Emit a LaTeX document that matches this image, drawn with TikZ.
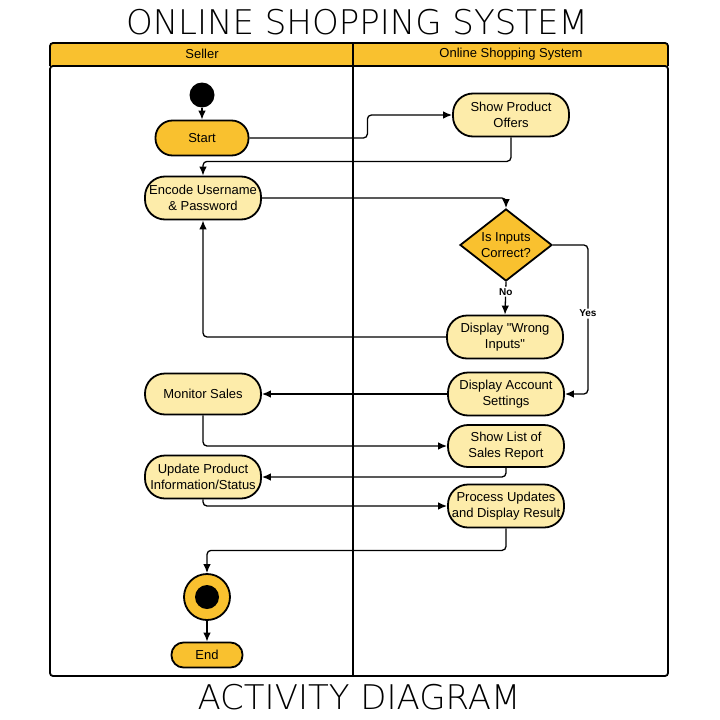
\documentclass[tikz,border=0pt]{standalone}
\usepackage{fontspec}
\setmainfont{Liberation Sans}
\newfontfamily\titlefont{DejaVu Sans ExtraLight}
\definecolor{laneyellow}{HTML}{F9C12F}
\definecolor{actlight}{HTML}{FDECAA}
\usetikzlibrary{positioning,arrows.meta,shapes.geometric}

\begin{document}
\begin{tikzpicture}[x=1pt,y=-1pt,
        act/.style={rectangle,rounded corners=20pt,
                    draw=black,line width=1.8pt,fill=actlight,
                    minimum width=116pt,minimum height=43pt,inner sep=1pt,
                    align=center,font=\fontsize{13}{16}\selectfont},
        term/.style={act,fill=laneyellow},
        flow/.style={-{Latex[length=9pt,width=7.5pt]},line width=1.3pt,rounded corners=4pt},
        guard/.style={fill=white,inner sep=1.5pt,font=\bfseries\fontsize{10}{12}\selectfont}]
    \useasboundingbox (0,0) rectangle (720,720);

    % titles
    \node[font=\titlefont\fontsize{34}{40}\selectfont] (title) at (357,22) {ONLINE SHOPPING SYSTEM};
    \node[font=\titlefont\fontsize{34}{40}\selectfont] (subtitle) at (359,697) {ACTIVITY DIAGRAM};

    % swimlanes
    \filldraw[fill=laneyellow,line width=1.8pt,rounded corners=3pt]
        (50,66) -- (50,43) -- (668,43) -- (668,66);
    \draw[line width=1.8pt,rounded corners=3pt] (50,66) -- (50,676) -- (668,676) -- (668,66) -- cycle;
    \draw[line width=1.8pt] (353,43) -- (353,676);
    \node[font=\fontsize{13}{15}\selectfont] (seller) at (202,54) {Seller};
    \node[font=\fontsize{13}{15}\selectfont] (system) at (511,54) {Online Shopping System};

    % seller lane
    \node[circle,fill=black,minimum size=25pt,inner sep=0pt] (init) at (202,95) {};
    \node[term,minimum width=93pt,minimum height=35pt,rounded corners=17pt] (start) at (202,138) {Start};
    \node[act] (encode) at (203,198) {Encode Username\\\& Password};
    \node[act,minimum height=41pt] (monitor) at (203,394) {Monitor Sales};
    \node[act] (update) at (203,477) {Update Product\\Information/Status};
    \node[circle,draw=black,line width=1.8pt,fill=laneyellow,minimum size=46pt,inner sep=0pt] (final) at (207,597) {};
    \node[circle,fill=black,minimum size=24pt,inner sep=0pt] (finaldot) at (final) {};
    \node[term,minimum width=71pt,minimum height=25pt,rounded corners=12pt] (finish) at (207,655) {End};

    % system lane
    \node[act] (offers) at (511,115) {Show Product\\Offers};
    \node[diamond,aspect=1.28,draw=black,line width=1.8pt,fill=laneyellow,
          minimum width=92pt,minimum height=72pt,inner sep=0pt,align=center,
          font=\fontsize{13}{16}\selectfont] (check) at (506,245) {Is Inputs\\Correct?};
    \node[act] (wrong) at (505,337) {Display \textquotedbl Wrong\\Inputs\textquotedbl};
    \node[act] (account) at (506,394) {Display Account\\Settings};
    \node[act,minimum height=42pt] (report) at (506,446) {Show List of\\Sales Report};
    \node[act] (process) at (506,506) {Process Updates\\and Display Result};

    % flows
    \draw[flow] (init) -- (start);
    \draw[flow] (start.east) -- ++(118,0) |- (offers.west);
    \draw[flow] (offers.south) -- ++(0,24) -| (encode.north);
    \draw[flow] (encode.east) -| (check.north);
    \draw[flow] (check.south) -- node[guard,pos=0.3] {No} (wrong.north);
    \draw[flow] (check.east) -- ++(35,0) |- node[guard,pos=0.23] {Yes} (account.east);
    \draw[flow] (wrong.west) -| (encode.south);
    \draw[flow] (account.west) -- (monitor.east);
    \draw[flow] (monitor.south) |- (report.west);
    \draw[flow] (report.south) |- (update.east);
    \draw[flow] (update.south) |- (process.west);
    \draw[flow] (process.south) -- ++(0,22) -| (final.north);
    \draw[flow] (final.south) -- (finish.north);
\end{tikzpicture}
\end{document}
